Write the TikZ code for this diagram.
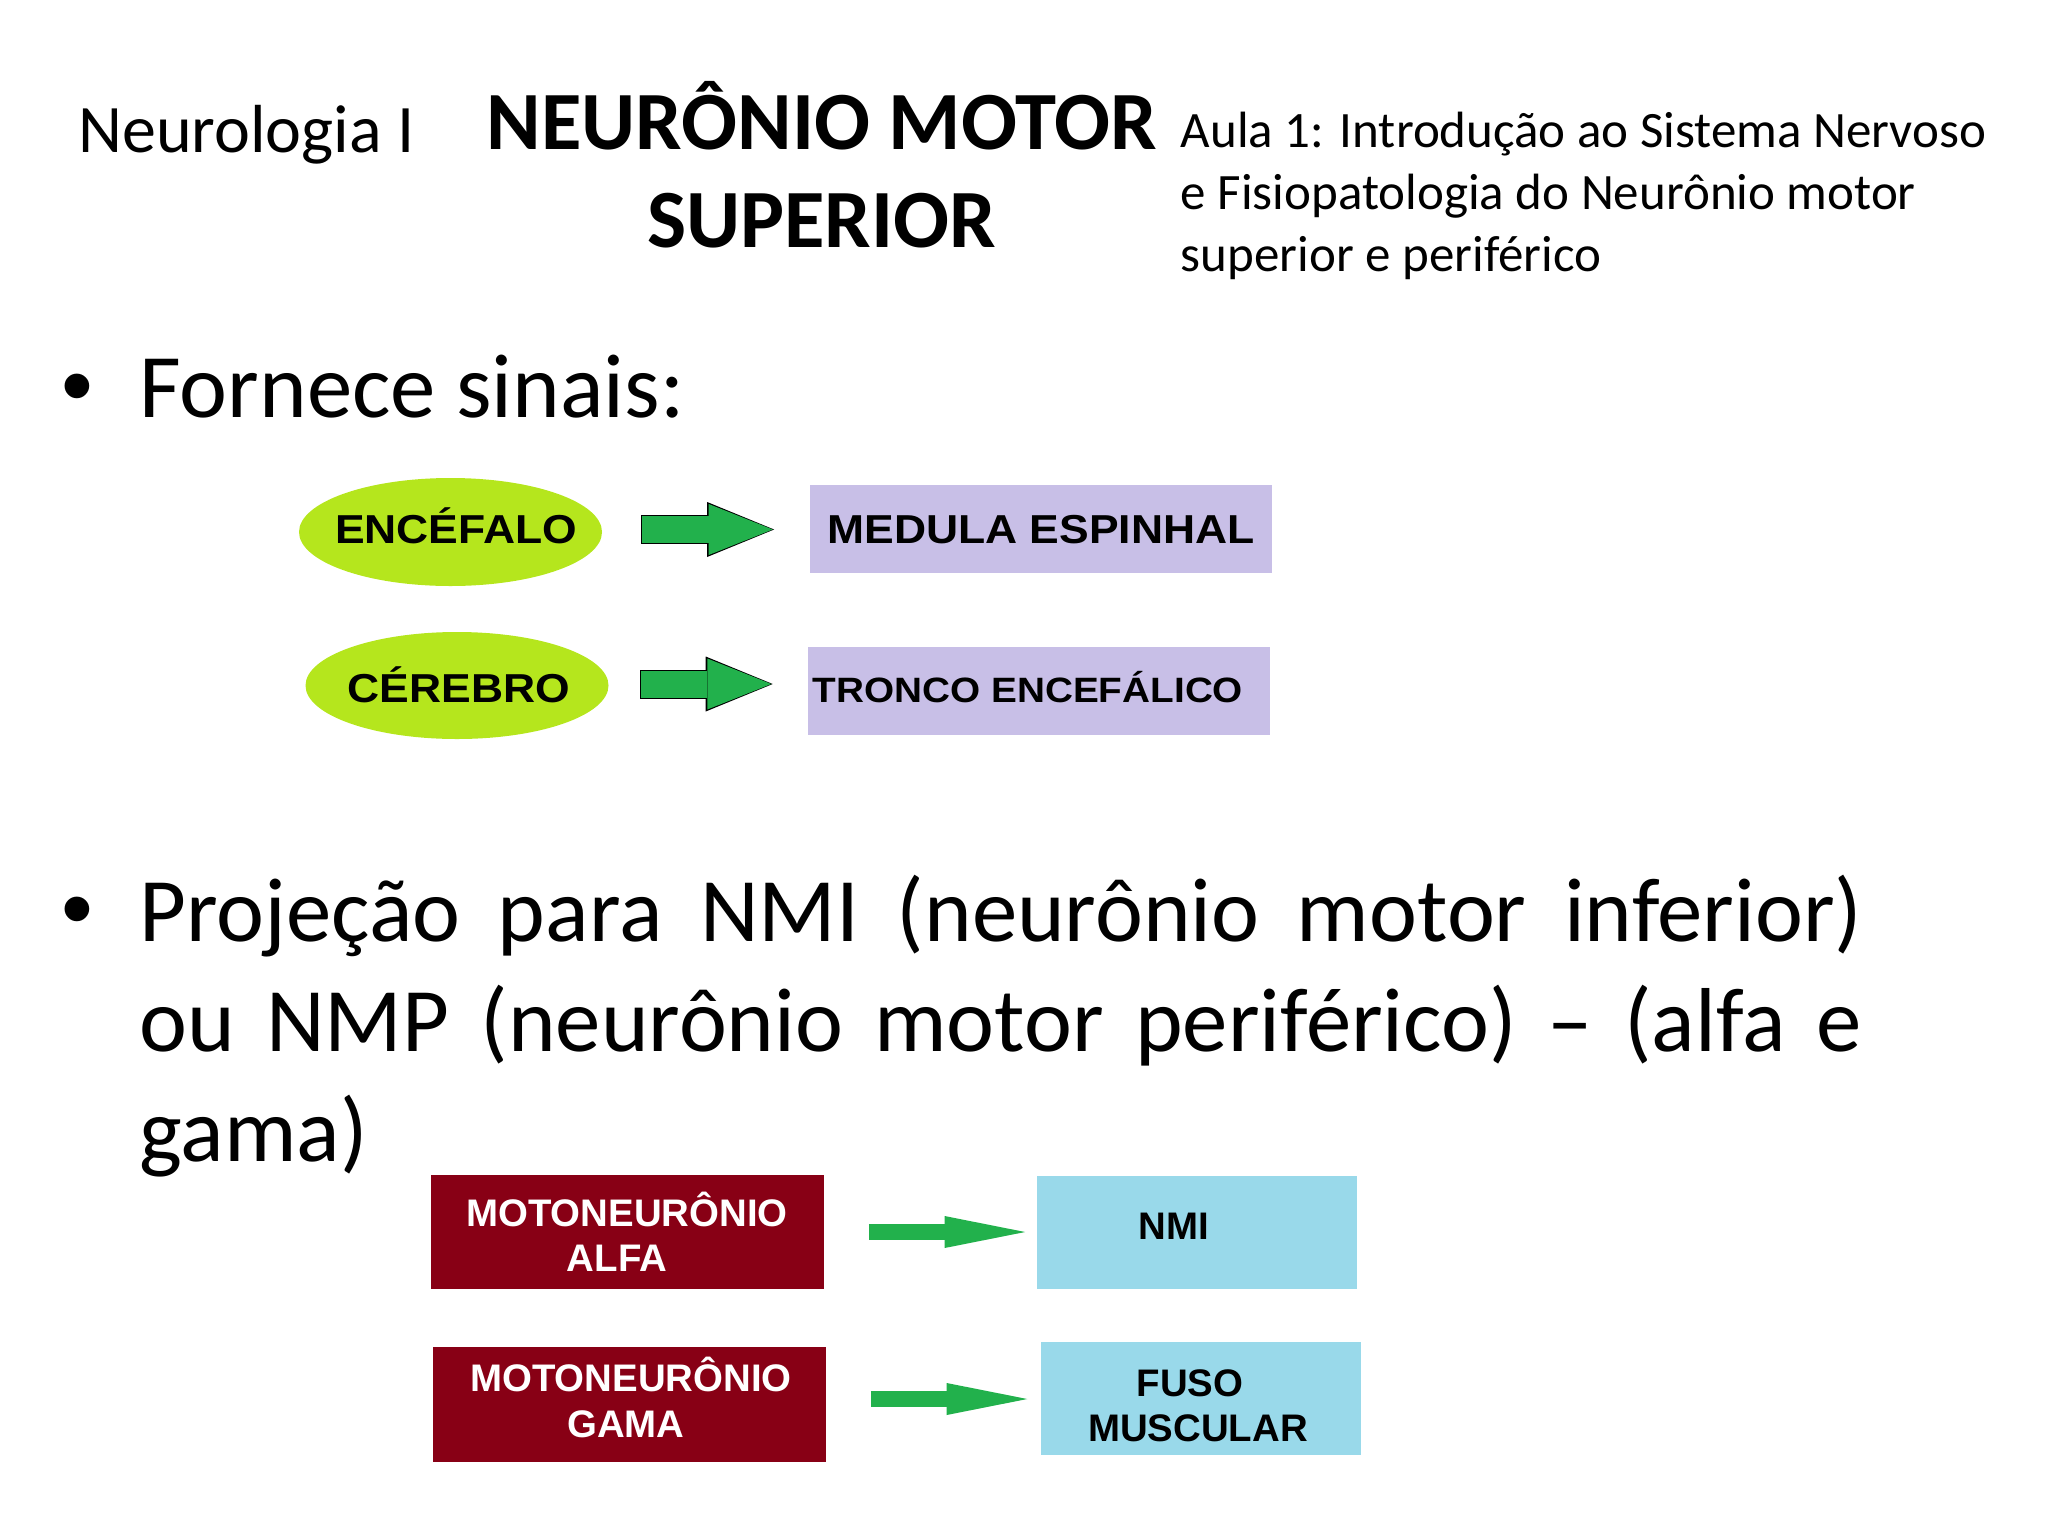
\documentclass[tikz,border=0pt]{standalone}
\usepackage{fontspec}
\setmainfont{Carlito}
\newfontfamily\arialfont{Liberation Sans}
\newfontfamily\arialwide[FakeStretch=1.1]{Liberation Sans}
\usetikzlibrary{arrows.meta,shapes.geometric}
\definecolor{limefill}{HTML}{B5E61D}
\definecolor{lilacfill}{HTML}{C8BFE7}
\definecolor{arrowgreen}{HTML}{22B14C}
\definecolor{wine}{HTML}{880015}
\definecolor{skyfill}{HTML}{99D9EA}
\tikzset{
  oval/.style={ellipse,fill=limefill,inner sep=0pt},
  lilacbox/.style={rectangle,fill=lilacfill,inner sep=0pt},
  winebox/.style={rectangle,fill=wine,inner sep=0pt},
  skybox/.style={rectangle,fill=skyfill,inner sep=0pt},
  bigword/.style={anchor=base,inner sep=0pt,font=\arialwide\bfseries\fontsize{20.2}{22}\selectfont},
  smallword/.style={anchor=base,inner sep=0pt,font=\arialwide\bfseries\fontsize{17.6}{20}\selectfont},
  boxword/.style={inner sep=0pt,align=center,font=\arialfont\bfseries\fontsize{19.2}{22.7}\selectfont},
  fatarrow/.style 2 args={
    line width=13.5pt,draw=arrowgreen,shorten <=#1,shorten >=#2,
    -{Triangle[length=32pt,width=25.5pt,line width=0pt,fill=arrowgreen]},
    preaction={draw=black,line width=14.5pt,shorten <=#1-0.5pt,shorten >=#2-0.7pt,
      -{Triangle[length=33.5pt,width=27.5pt,line width=0pt,fill=black]}}},
  slimarrow/.style 2 args={
    line width=8.25pt,draw=arrowgreen,shorten <=#1,shorten >=#2,
    -{Triangle[length=40.3pt,width=16pt,line width=0pt,fill=arrowgreen]}},
  plain/.style={inner sep=0pt,anchor=base west},
  bigtext/.style={plain,font=\fontsize{45.4}{55}\selectfont},
  dottext/.style={plain,font=\arialfont\fontsize{45.4}{55}\selectfont},
  headtext/.style={plain,font=\fontsize{25.5}{31}\selectfont}
}
\begin{document}
\begin{tikzpicture}[x=0.5pt,y=-0.5pt]
  \useasboundingbox (0,0) rectangle (2048,1536);

  % heading
  \node[plain,font=\fontsize{34}{38}\selectfont] (course) at (78,152) {Neurologia I};
  \node[inner sep=0pt,align=center,font=\bfseries\fontsize{41.4}{49}\selectfont] (title) at (821.7,165) {NEURÔNIO MOTOR\\SUPERIOR};
  \node[headtext,align=left,anchor=north west] (lesson) at (1180.5,112) {Aula 1: Introdução ao Sistema Nervoso\\e Fisiopatologia do Neurônio motor\\superior e periférico};

  % first bullet
  \node[dottext] (dotA) at (61,416) {\textbullet};
  \node[bigtext] (signals) at (139,417) {Fornece sinais:};

  \node[oval,minimum width=151.5pt,minimum height=54pt] (enc) at (450.5,532) {};
  \node[oval,minimum width=151.5pt,minimum height=53.5pt] (cer) at (457,685.5) {};
  \node[lilacbox,minimum width=231pt,minimum height=44pt] (med) at (1040.5,529) {};
  \node[lilacbox,minimum width=231pt,minimum height=44pt] (tro) at (1038.5,691) {};
  \node[bigword] (encT) at (456,543) {ENCÉFALO};
  \node[bigword] (cerT) at (459,702) {CÉREBRO};
  \node[bigword] (medT) at (1041,543) {MEDULA ESPINHAL};
  \node[smallword] (troT) at (1028,702) {TRONCO ENCEFÁLICO};

  \coordinate (rowA) at (700,529.5);
  \coordinate (rowB) at (700,684);
  \draw[fatarrow={19.8pt}{18.2pt}] (enc.east |- rowA) -- (med.west |- rowA);
  \draw[fatarrow={16.2pt}{17.9pt}] (cer.east |- rowB) -- (tro.west |- rowB);

  % second bullet
  \node[dottext] (dotB) at (61,939.5) {\textbullet};
  \node[bigtext,anchor=north west,text width=861.5pt,align=justify] (proj) at (139,874.8) {Projeção para NMI (neurônio motor inferior) ou NMP (neurônio motor periférico) -- (alfa e gama)};

  \node[winebox,minimum width=196.5pt,minimum height=57pt] (alf) at (627.5,1232) {};
  \node[winebox,minimum width=196.5pt,minimum height=57.5pt] (gam) at (629,1404.5) {};
  \node[skybox,minimum width=160pt,minimum height=56.5pt] (nmi) at (1197,1232.5) {};
  \node[skybox,minimum width=160pt,minimum height=56.5pt] (fus) at (1200.5,1398.5) {};
  \node[boxword,text=white] (alfT) at (627,1232) {MOTONEURÔNIO\\\hspace*{-10pt}ALFA};
  \node[boxword,text=white] (gamT) at (631,1397.5) {MOTONEURÔNIO\\\hspace*{-5pt}GAMA};
  \node[boxword] (nmiT) at (1174,1226) {NMI};
  \node[boxword] (fusT) at (1198,1405.5) {\hspace*{-8pt}FUSO\\MUSCULAR};

  \coordinate (rowC) at (950,1232);
  \coordinate (rowD) at (950,1399);
  \draw[slimarrow={22.2pt}{5.7pt}] (alf.east |- rowC) -- (nmi.west |- rowC);
  \draw[slimarrow={22.5pt}{6.4pt}] (gam.east |- rowD) -- (fus.west |- rowD);
\end{tikzpicture}
\end{document}
